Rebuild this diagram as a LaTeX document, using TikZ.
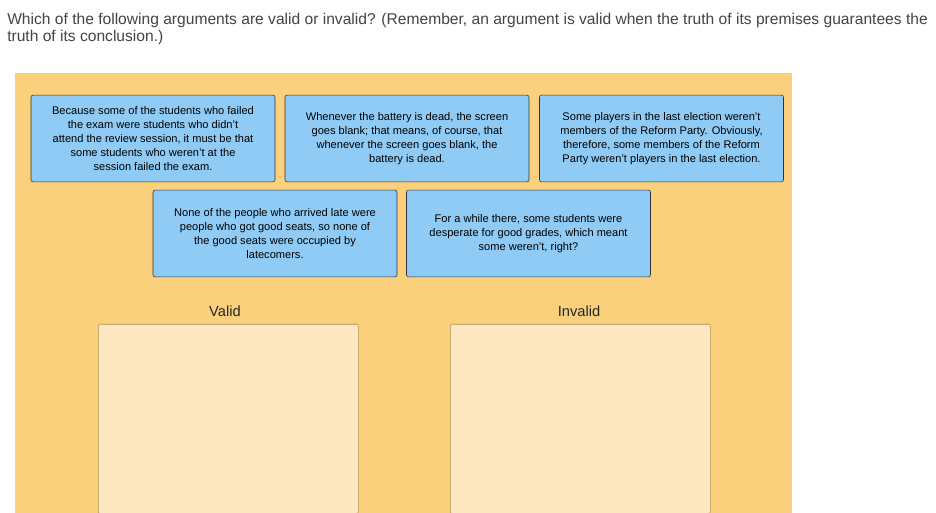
\documentclass[tikz,border=0pt]{standalone}
\usepackage{fontspec}
\setmainfont{Liberation Sans}
\definecolor{panel}{HTML}{FAD07C}
\definecolor{card}{HTML}{8FCBF5}
\definecolor{drop}{HTML}{FDE7C0}
\definecolor{dropb}{HTML}{B0925A}
\definecolor{qtext}{HTML}{444444}
\begin{document}
\begin{tikzpicture}[x=0.75pt,y=-0.75pt,
  cardbox/.style={draw=black!80,fill=card,rounded corners=1.5pt,minimum width=183pt,minimum height=65pt,align=center,font=\fontsize{8.3}{10.4}\selectfont,inner sep=2pt},
  dropbox/.style={draw=dropb,fill=drop,rounded corners=1.5pt,minimum width=195pt,minimum height=142pt},
  lbl/.style={font=\fontsize{11}{12}\selectfont,text=black!85}]
\useasboundingbox (0,0) rectangle (936,513);
\fill[white] (0,0) rectangle (936,513);
\node[anchor=north west,align=left,text=qtext,font=\fontsize{11.7}{12.8}\selectfont,inner sep=0] (q) at (7,13)
 {Which of the following arguments are valid or invalid? (Remember, an argument is valid when the truth of its premises guarantees the\\truth of its conclusion.)};
\fill[panel] (15,73) rectangle (792,513);
\node[cardbox] (c1) at (153,138.5) {Because some of the students who failed\\the exam were students who didn't\\attend the review session, it must be that\\some students who weren't at the\\session failed the exam.};
\node[cardbox] (c2) at (407,138.5) {Whenever the battery is dead, the screen\\goes blank; that means, of course, that\\whenever the screen goes blank, the\\battery is dead.};
\node[cardbox] (c3) at (661.5,138.5) {Some players in the last election weren't\\members of the Reform Party. Obviously,\\therefore, some members of the Reform\\Party weren't players in the last election.};
\node[cardbox] (c4) at (275,233.5) {None of the people who arrived late were\\people who got good seats, so none of\\the good seats were occupied by\\latecomers.};
\node[cardbox] (c5) at (528.5,233.5) {For a while there, some students were\\desperate for good grades, which meant\\some weren't, right?};
\node[lbl] (v) at (225,311) {Valid};
\node[lbl] (iv) at (579,311) {Invalid};
\node[dropbox,anchor=north west] (d1) at (98,324) {};
\node[dropbox,anchor=north west] (d2) at (450,324) {};
\end{tikzpicture}
\end{document}
